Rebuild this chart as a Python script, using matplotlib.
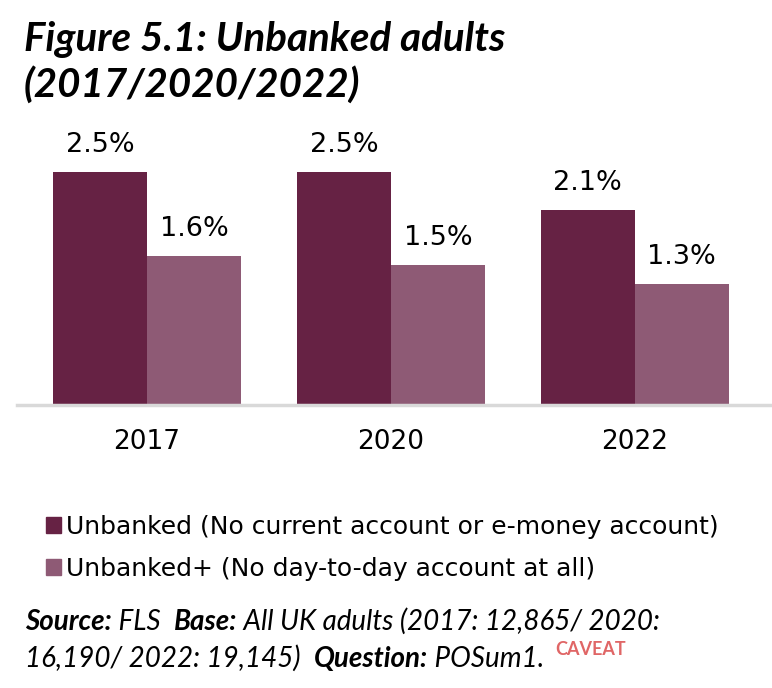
import matplotlib.pyplot as plt
from matplotlib.patches import Patch
import numpy as np

years = ["2017", "2020", "2022"]
unbanked = [2.5, 2.5, 2.1]
unbanked_plus = [1.6, 1.5, 1.3]
series_names = ["Unbanked (No current account or e-money account)",
                "Unbanked+ (No day-to-day account at all)"]

dark = "#662244"
light = "#8E5A75"

fig = plt.figure(figsize=(7.72, 6.88), dpi=100)
ax = fig.add_axes([0.022, 0.4113, 0.975, 0.433])

x = np.arange(len(years))
w = 0.385
b1 = ax.bar(x - w / 2, unbanked, w, color=dark)
b2 = ax.bar(x + w / 2, unbanked_plus, w, color=light)

# value labels above bars
for bars, vals in ((b1, unbanked), (b2, unbanked_plus)):
    for r, v in zip(bars, vals):
        ax.annotate(f"{v:.1f}%", (r.get_x() + r.get_width() / 2, v),
                    xytext=(0, 14.4), textcoords="offset points",
                    ha="center", va="baseline", fontsize=19.5, family="DejaVu Sans")

ax.set_xlim(-0.533, 2.553)
ax.set_ylim(0, 3.2)
ax.set_xticks(x)
ax.set_xticklabels(years, fontsize=19, family="DejaVu Sans")
ax.tick_params(axis="x", length=0, pad=17)
ax.set_yticks([])
for s in ["top", "right", "left"]:
    ax.spines[s].set_visible(False)
ax.spines["bottom"].set_color("#D9D9D9")
ax.spines["bottom"].set_linewidth(2.5)

# title (two lines)
fig.text(0.031, 0.9259, "Figure 5.1: Unbanked adults", ha="left", va="baseline",
         fontsize=29, family="Lato", fontweight="bold", style="italic")
fig.text(0.031, 0.859, "(2017/2020/2022)", ha="left", va="baseline",
         fontsize=29, family="Lato", fontweight="bold", style="italic")

# legend
handles = [Patch(color=dark), Patch(color=light)]
fig.legend(handles, series_names, loc="upper left", bbox_to_anchor=(0.060, 0.252),
           frameon=False, handlelength=0.6, handleheight=0.6,
           handletextpad=0.2, labelspacing=0.74, borderaxespad=0, borderpad=0,
           prop={"family": "DejaVu Sans", "size": 18})

# footer: mixed bold / normal italic pieces on one baseline
def footer_line(parts, x0, y0):
    t = fig.text(x0, y0, parts[0][0], ha="left", va="baseline", fontsize=20,
                 family="Lato", style="italic",
                 fontweight="bold" if parts[0][1] else "normal")
    for txt, bold in parts[1:]:
        t = fig.add_artist(plt.Annotation(txt, xy=(1, 0), xycoords=t, ha="left", va="bottom",
                                          fontsize=20, family="Lato", style="italic",
                                          fontweight="bold" if bold else "normal",
                                          annotation_clip=False))
    return t

footer_line([("Source:", True), (" FLS  ", False), ("Base:", True),
             (" All UK adults (2017: 12,865/ 2020:", False)], 0.033, 0.0843)
last = footer_line([("16,190/ 2022: 19,145)  ", False), ("Question:", True),
                    (" POSum1.", False)], 0.033, 0.0305)

fig.canvas.draw()
bb = last.get_window_extent()
fig.text(bb.x1 / fig.bbox.width + 0.014, 0.048, "CAVEAT", ha="left", va="baseline",
         fontsize=13, family="Lato", fontweight="bold", color="#E06666")

fig.savefig("out.png", dpi=100)
